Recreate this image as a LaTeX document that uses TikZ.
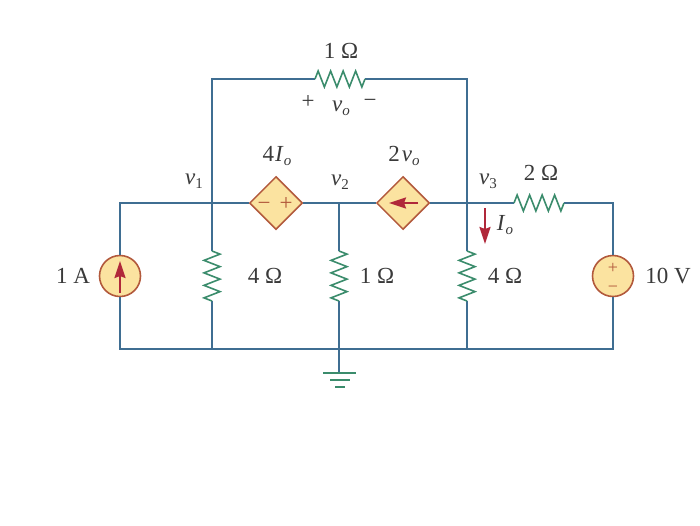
\documentclass[tikz,border=0pt]{standalone}
\usepackage{fontspec}
\setmainfont{Liberation Serif}
\usepackage{tikz}
\usetikzlibrary{shapes.geometric,decorations.pathmorphing,arrows.meta}

\definecolor{wirecol}{HTML}{3F6E92}
\definecolor{rescol}{HTML}{3B8C6C}
\definecolor{srcfill}{HTML}{FBE3A0}
\definecolor{srcedge}{HTML}{B2593C}
\definecolor{arrowcol}{HTML}{B0283A}
\definecolor{textcol}{HTML}{3A3A3A}

\newcommand{\symb}[2]{\textit{#1}\raisebox{-0.35ex}{\fontsize{15}{15}\selectfont #2}}

\begin{document}
\begin{tikzpicture}[x=1pt,y=-1pt,
  wire/.style={draw=wirecol,line width=1.7pt},
  busline/.style={draw=wirecol,line width=2.4pt},
  res/.style={draw=rescol,line width=1.6pt,decorate,
    decoration={zigzag,segment length=12.5pt,amplitude=8pt}},
  bar/.style={draw=rescol,line width=1.6pt},
  source/.style={circle,draw=srcedge,fill=srcfill,line width=1.6pt,minimum size=41pt,inner sep=0pt},
  dep/.style={diamond,draw=srcedge,fill=srcfill,line width=1.5pt,minimum width=53pt,minimum height=53pt,inner sep=0pt},
  lab/.style={text=textcol,font=\fontsize{23}{25}\selectfont,inner sep=0pt},
  sign/.style={text=srcedge,font=\fontsize{23}{23}\selectfont,inner sep=0pt},
  smallsign/.style={text=srcedge,font=\fontsize{18}{18}\selectfont,inner sep=0pt},
  redarrow/.style={draw=arrowcol,line width=2.2pt,-{Stealth[length=17pt,width=11pt,inset=2pt]}}
]
\useasboundingbox (0,0) rectangle (700,525);

% junctions
\coordinate (v1) at (212,203);
\coordinate (v2) at (339,203);
\coordinate (v3) at (467,203);
\coordinate (topl) at (212,79);
\coordinate (topr) at (467,79);
\coordinate (left) at (120,203);
\coordinate (right) at (613,203);
\coordinate (botl) at (120,349);
\coordinate (bot1) at (212,349);
\coordinate (bot2) at (339,349);
\coordinate (bot3) at (467,349);
\coordinate (botr) at (613,349);
\coordinate (gnd) at (339,373);

% resistor ends
\coordinate (r1a) at (315,79);
\coordinate (r1b) at (365,79);
\coordinate (r2a) at (514,203);
\coordinate (r2b) at (564,203);
\coordinate (r3a) at (212,251);
\coordinate (r3b) at (212,301);
\coordinate (r4a) at (339,251);
\coordinate (r4b) at (339,301);
\coordinate (r5a) at (467,251);
\coordinate (r5b) at (467,301);

\node[source] (src1) at (120,276) {};
\node[source] (src2) at (613,276) {};
\node[dep] (dep1) at (276,203) {};
\node[dep] (dep2) at (403,203) {};

% wires
\draw[wire] (src1) -- (left) -- (v1);
\draw[busline] (v1) -- (dep1);
\draw[busline] (dep1) -- (v2) -- (dep2);
\draw[busline] (dep2) -- (v3);
\draw[wire] (v3) -- (r2a);
\draw[wire] (r2b) -- (right) -- (src2);
\draw[wire] (src1) -- (botl) -- (botr) -- (src2);
\draw[wire] (r3a) -- (v1) -- (topl) -- (r1a);
\draw[wire] (r1b) -- (topr) -- (v3) -- (r5a);
\draw[wire] (v2) -- (r4a);
\draw[wire] (r3b) -- (bot1);
\draw[wire] (r4b) -- (bot2) -- (gnd);
\draw[wire] (r5b) -- (bot3);

% resistors
\draw[res] (r1a) -- (r1b);
\draw[res] (r2a) -- (r2b);
\draw[res] (r3a) -- (r3b);
\draw[res] (r4a) -- (r4b);
\draw[res] (r5a) -- (r5b);

% ground
\coordinate (g1a) at (323,373);
\coordinate (g1b) at (356,373);
\coordinate (g2a) at (330,380);
\coordinate (g2b) at (350,380);
\coordinate (g3a) at (335,387);
\coordinate (g3b) at (345,387);
\draw[bar] (g1a) -- (g1b);
\draw[bar] (g2a) -- (g2b);
\draw[bar] (g3a) -- (g3b);

% arrows
\coordinate (a1a) at (120,293);
\coordinate (a1b) at (120,261);
\coordinate (a2a) at (418,203);
\coordinate (a2b) at (389,203);
\coordinate (a3a) at (485,208);
\coordinate (a3b) at (485,244);
\draw[redarrow] (a1a) -- (a1b);
\draw[redarrow] (a2a) -- (a2b);
\draw[redarrow] (a3a) -- (a3b);

% signs
\node[sign] (dep1m) at (264,206) {\textminus};
\node[sign] (dep1p) at (286,204) {+};
\node[smallsign] (src2p) at (613,268) {+};
\node[smallsign] (src2m) at (613,289) {\textminus};

% labels
\node[lab] (l1) at (341,51) {1 Ω};
\node[lab] (plus) at (308,102) {+};
\node[lab] (vo) at (341,108) {\symb{v}{\textit{o}}};
\node[lab] (minus) at (370,103) {\textminus};
\node[lab] (v1lab) at (194,181) {\symb{v}{1}};
\node[lab] (gain1) at (277,156) {4\kern1pt\symb{I}{\textit{o}}};
\node[lab] (v2lab) at (340,182) {\symb{v}{2}};
\node[lab] (gain2) at (404,156) {2\kern2pt\symb{v}{\textit{o}}};
\node[lab] (v3lab) at (488,181) {\symb{v}{3}};
\node[lab] (l2) at (541,173) {2 Ω};
\node[lab] (io) at (505,225) {\symb{I}{\textit{o}}};
\node[lab] (amp) at (73,276) {1 A};
\node[lab] (l3) at (265,276) {4 Ω};
\node[lab] (l4) at (377,276) {1 Ω};
\node[lab] (l5) at (505,276) {4 Ω};
\node[lab] (volt) at (668,276) {10 V};
\end{tikzpicture}
\end{document}
